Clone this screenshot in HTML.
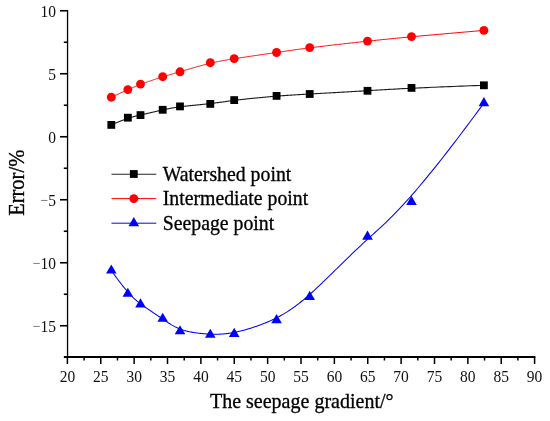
<!DOCTYPE html>
<html><head><meta charset="utf-8"><style>
html,body{margin:0;padding:0;background:#fff;}
svg{display:block;}
text{font-family:'Liberation Serif', 'Times New Roman', serif;fill:#000;}
.tl{font-size:15.5px;fill:#111;}
.mn{font-size:13.8px;fill:#555;}
.lg{font-size:20px;stroke:#000;stroke-width:0.3px;}
.at{font-size:20.5px;stroke:#000;stroke-width:0.3px;}
</style></head><body>
<svg width="550" height="421" viewBox="0 0 550 421">
<rect width="550" height="421" fill="#fff"/>
<line x1="67.55" y1="10" x2="67.55" y2="357.0" stroke="#000" stroke-width="1.3"/>
<line x1="64" y1="357.0" x2="535.4" y2="357.0" stroke="#000" stroke-width="1.8"/>
<line x1="60" y1="325.75" x2="67.55" y2="325.75" stroke="#000" stroke-width="1.6"/>
<line x1="60" y1="262.75" x2="67.55" y2="262.75" stroke="#000" stroke-width="1.6"/>
<line x1="60" y1="199.75" x2="67.55" y2="199.75" stroke="#000" stroke-width="1.6"/>
<line x1="60" y1="136.75" x2="67.55" y2="136.75" stroke="#000" stroke-width="1.6"/>
<line x1="60" y1="73.75" x2="67.55" y2="73.75" stroke="#000" stroke-width="1.6"/>
<line x1="60" y1="10.75" x2="67.55" y2="10.75" stroke="#000" stroke-width="1.6"/>
<line x1="63.8" y1="357.25" x2="67.55" y2="357.25" stroke="#000" stroke-width="1.6"/>
<line x1="63.8" y1="294.25" x2="67.55" y2="294.25" stroke="#000" stroke-width="1.6"/>
<line x1="63.8" y1="231.25" x2="67.55" y2="231.25" stroke="#000" stroke-width="1.6"/>
<line x1="63.8" y1="168.25" x2="67.55" y2="168.25" stroke="#000" stroke-width="1.6"/>
<line x1="63.8" y1="105.25" x2="67.55" y2="105.25" stroke="#000" stroke-width="1.6"/>
<line x1="63.8" y1="42.25" x2="67.55" y2="42.25" stroke="#000" stroke-width="1.6"/>
<line x1="67.40" y1="357.0" x2="67.40" y2="364" stroke="#000" stroke-width="1.5"/>
<line x1="100.77" y1="357.0" x2="100.77" y2="364" stroke="#000" stroke-width="1.5"/>
<line x1="134.14" y1="357.0" x2="134.14" y2="364" stroke="#000" stroke-width="1.5"/>
<line x1="167.51" y1="357.0" x2="167.51" y2="364" stroke="#000" stroke-width="1.5"/>
<line x1="200.89" y1="357.0" x2="200.89" y2="364" stroke="#000" stroke-width="1.5"/>
<line x1="234.26" y1="357.0" x2="234.26" y2="364" stroke="#000" stroke-width="1.5"/>
<line x1="267.63" y1="357.0" x2="267.63" y2="364" stroke="#000" stroke-width="1.5"/>
<line x1="301.00" y1="357.0" x2="301.00" y2="364" stroke="#000" stroke-width="1.5"/>
<line x1="334.37" y1="357.0" x2="334.37" y2="364" stroke="#000" stroke-width="1.5"/>
<line x1="367.74" y1="357.0" x2="367.74" y2="364" stroke="#000" stroke-width="1.5"/>
<line x1="401.11" y1="357.0" x2="401.11" y2="364" stroke="#000" stroke-width="1.5"/>
<line x1="434.49" y1="357.0" x2="434.49" y2="364" stroke="#000" stroke-width="1.5"/>
<line x1="467.86" y1="357.0" x2="467.86" y2="364" stroke="#000" stroke-width="1.5"/>
<line x1="501.23" y1="357.0" x2="501.23" y2="364" stroke="#000" stroke-width="1.5"/>
<line x1="534.60" y1="357.0" x2="534.60" y2="364" stroke="#000" stroke-width="1.5"/>
<line x1="84.09" y1="357.0" x2="84.09" y2="360.5" stroke="#000" stroke-width="1.5"/>
<line x1="117.46" y1="357.0" x2="117.46" y2="360.5" stroke="#000" stroke-width="1.5"/>
<line x1="150.83" y1="357.0" x2="150.83" y2="360.5" stroke="#000" stroke-width="1.5"/>
<line x1="184.20" y1="357.0" x2="184.20" y2="360.5" stroke="#000" stroke-width="1.5"/>
<line x1="217.57" y1="357.0" x2="217.57" y2="360.5" stroke="#000" stroke-width="1.5"/>
<line x1="250.94" y1="357.0" x2="250.94" y2="360.5" stroke="#000" stroke-width="1.5"/>
<line x1="284.31" y1="357.0" x2="284.31" y2="360.5" stroke="#000" stroke-width="1.5"/>
<line x1="317.69" y1="357.0" x2="317.69" y2="360.5" stroke="#000" stroke-width="1.5"/>
<line x1="351.06" y1="357.0" x2="351.06" y2="360.5" stroke="#000" stroke-width="1.5"/>
<line x1="384.43" y1="357.0" x2="384.43" y2="360.5" stroke="#000" stroke-width="1.5"/>
<line x1="417.80" y1="357.0" x2="417.80" y2="360.5" stroke="#000" stroke-width="1.5"/>
<line x1="451.17" y1="357.0" x2="451.17" y2="360.5" stroke="#000" stroke-width="1.5"/>
<line x1="484.54" y1="357.0" x2="484.54" y2="360.5" stroke="#000" stroke-width="1.5"/>
<line x1="517.91" y1="357.0" x2="517.91" y2="360.5" stroke="#000" stroke-width="1.5"/>
<text transform="translate(67.40,382.2) scale(1,1.07)" text-anchor="middle" class="tl">20</text>
<text transform="translate(100.77,382.2) scale(1,1.07)" text-anchor="middle" class="tl">25</text>
<text transform="translate(134.14,382.2) scale(1,1.07)" text-anchor="middle" class="tl">30</text>
<text transform="translate(167.51,382.2) scale(1,1.07)" text-anchor="middle" class="tl">35</text>
<text transform="translate(200.89,382.2) scale(1,1.07)" text-anchor="middle" class="tl">40</text>
<text transform="translate(234.26,382.2) scale(1,1.07)" text-anchor="middle" class="tl">45</text>
<text transform="translate(267.63,382.2) scale(1,1.07)" text-anchor="middle" class="tl">50</text>
<text transform="translate(301.00,382.2) scale(1,1.07)" text-anchor="middle" class="tl">55</text>
<text transform="translate(334.37,382.2) scale(1,1.07)" text-anchor="middle" class="tl">60</text>
<text transform="translate(367.74,382.2) scale(1,1.07)" text-anchor="middle" class="tl">65</text>
<text transform="translate(401.11,382.2) scale(1,1.07)" text-anchor="middle" class="tl">70</text>
<text transform="translate(434.49,382.2) scale(1,1.07)" text-anchor="middle" class="tl">75</text>
<text transform="translate(467.86,382.2) scale(1,1.07)" text-anchor="middle" class="tl">80</text>
<text transform="translate(501.23,382.2) scale(1,1.07)" text-anchor="middle" class="tl">85</text>
<text transform="translate(534.60,382.2) scale(1,1.07)" text-anchor="middle" class="tl">90</text>
<text transform="translate(55.9,331.65) scale(1,1.07)" text-anchor="end" class="tl"><tspan class="mn" dy="-0.7">−</tspan><tspan dy="0.7">15</tspan></text>
<text transform="translate(55.9,268.65) scale(1,1.07)" text-anchor="end" class="tl"><tspan class="mn" dy="-0.7">−</tspan><tspan dy="0.7">10</tspan></text>
<text transform="translate(55.9,205.65) scale(1,1.07)" text-anchor="end" class="tl"><tspan class="mn" dy="-0.7">−</tspan><tspan dy="0.7">5</tspan></text>
<text transform="translate(55.9,142.65) scale(1,1.07)" text-anchor="end" class="tl">0</text>
<text transform="translate(55.9,79.65) scale(1,1.07)" text-anchor="end" class="tl">5</text>
<text transform="translate(55.9,16.65) scale(1,1.07)" text-anchor="end" class="tl">10</text>
<path d="M111.30,124.90 L112.40,124.42 L113.48,123.96 L114.52,123.52 L115.54,123.09 L116.52,122.68 L117.48,122.29 L118.42,121.91 L119.32,121.54 L120.21,121.19 L121.06,120.86 L121.90,120.54 L122.71,120.23 L123.49,119.93 L124.26,119.65 L125.00,119.38 L125.73,119.12 L126.44,118.87 L127.12,118.64 L127.79,118.41 L128.44,118.19 L129.08,117.99 L129.70,117.79 L130.30,117.60 L130.90,117.42 L131.47,117.25 L132.04,117.08 L132.59,116.92 L133.13,116.77 L133.66,116.63 L134.19,116.49 L134.70,116.35 L135.20,116.22 L135.70,116.10 L136.19,115.98 L136.67,115.86 L137.15,115.75 L137.63,115.64 L138.10,115.53 L138.57,115.42 L139.03,115.32 L139.49,115.21 L139.96,115.11 L140.42,115.00 L140.88,114.90 L141.35,114.80 L141.81,114.69 L142.28,114.59 L142.75,114.48 L143.22,114.38 L143.69,114.27 L144.17,114.16 L144.64,114.05 L145.11,113.94 L145.59,113.84 L146.07,113.73 L146.54,113.62 L147.02,113.51 L147.50,113.40 L147.98,113.29 L148.45,113.18 L148.93,113.07 L149.41,112.96 L149.89,112.85 L150.37,112.74 L150.85,112.63 L151.33,112.52 L151.80,112.41 L152.28,112.30 L152.76,112.19 L153.23,112.08 L153.71,111.97 L154.18,111.86 L154.66,111.75 L155.13,111.64 L155.60,111.53 L156.07,111.42 L156.54,111.32 L157.01,111.21 L157.47,111.10 L157.94,111.00 L158.40,110.89 L158.86,110.79 L159.32,110.69 L159.78,110.58 L160.23,110.48 L160.69,110.38 L161.14,110.28 L161.59,110.18 L162.03,110.08 L162.48,109.99 L162.92,109.89 L163.36,109.79 L163.79,109.70 L164.23,109.61 L164.66,109.51 L165.10,109.42 L165.53,109.33 L165.96,109.24 L166.39,109.15 L166.82,109.06 L167.25,108.98 L167.68,108.89 L168.11,108.80 L168.54,108.72 L168.98,108.63 L169.41,108.55 L169.84,108.47 L170.28,108.39 L170.71,108.31 L171.15,108.22 L171.59,108.15 L172.03,108.07 L172.48,107.99 L172.93,107.91 L173.38,107.83 L173.83,107.76 L174.28,107.68 L174.74,107.61 L175.21,107.53 L175.67,107.46 L176.14,107.38 L176.62,107.31 L177.09,107.24 L177.58,107.17 L178.07,107.10 L178.56,107.03 L179.06,106.96 L179.56,106.89 L180.07,106.82 L180.58,106.75 L181.11,106.68 L181.63,106.62 L182.17,106.55 L182.71,106.48 L183.25,106.42 L183.81,106.35 L184.36,106.29 L184.93,106.22 L185.50,106.16 L186.07,106.09 L186.65,106.03 L187.24,105.97 L187.83,105.90 L188.42,105.84 L189.02,105.78 L189.62,105.71 L190.23,105.65 L190.84,105.59 L191.45,105.53 L192.07,105.46 L192.68,105.40 L193.31,105.34 L193.93,105.28 L194.56,105.21 L195.18,105.15 L195.81,105.09 L196.44,105.03 L197.07,104.96 L197.71,104.90 L198.34,104.84 L198.98,104.77 L199.61,104.71 L200.25,104.65 L200.88,104.58 L201.52,104.52 L202.15,104.45 L202.78,104.39 L203.42,104.32 L204.05,104.25 L204.68,104.19 L205.31,104.12 L205.93,104.05 L206.56,103.99 L207.18,103.92 L207.80,103.85 L208.42,103.78 L209.03,103.71 L209.64,103.64 L210.25,103.56 L210.85,103.49 L211.46,103.42 L212.06,103.34 L212.65,103.27 L213.25,103.20 L213.85,103.12 L214.44,103.04 L215.03,102.97 L215.63,102.89 L216.22,102.81 L216.81,102.73 L217.40,102.65 L218.00,102.58 L218.59,102.50 L219.19,102.42 L219.79,102.33 L220.39,102.25 L220.99,102.17 L221.59,102.09 L222.20,102.01 L222.81,101.92 L223.42,101.84 L224.03,101.76 L224.65,101.67 L225.28,101.59 L225.91,101.50 L226.54,101.42 L227.18,101.33 L227.82,101.24 L228.47,101.16 L229.12,101.07 L229.78,100.98 L230.45,100.89 L231.12,100.81 L231.80,100.72 L232.49,100.63 L233.18,100.54 L233.89,100.45 L234.60,100.36 L235.31,100.27 L236.04,100.18 L236.78,100.09 L237.52,100.00 L238.28,99.91 L239.04,99.82 L239.82,99.73 L240.60,99.64 L241.39,99.55 L242.18,99.46 L242.99,99.37 L243.80,99.28 L244.61,99.19 L245.44,99.10 L246.27,99.01 L247.10,98.91 L247.95,98.82 L248.79,98.73 L249.64,98.64 L250.50,98.56 L251.36,98.47 L252.22,98.38 L253.09,98.29 L253.96,98.20 L254.84,98.11 L255.71,98.03 L256.59,97.94 L257.47,97.85 L258.36,97.77 L259.24,97.68 L260.12,97.60 L261.01,97.51 L261.90,97.43 L262.78,97.35 L263.67,97.27 L264.55,97.18 L265.44,97.10 L266.32,97.02 L267.20,96.95 L268.08,96.87 L268.96,96.79 L269.83,96.72 L270.71,96.64 L271.58,96.57 L272.44,96.49 L273.30,96.42 L274.16,96.35 L275.02,96.28 L275.87,96.22 L276.71,96.15 L277.55,96.08 L278.39,96.02 L279.22,95.95 L280.06,95.89 L280.88,95.83 L281.71,95.77 L282.54,95.71 L283.36,95.65 L284.19,95.59 L285.01,95.53 L285.83,95.47 L286.66,95.42 L287.48,95.36 L288.31,95.30 L289.13,95.25 L289.96,95.19 L290.79,95.14 L291.63,95.09 L292.47,95.03 L293.31,94.98 L294.15,94.93 L295.00,94.87 L295.85,94.82 L296.71,94.77 L297.58,94.72 L298.45,94.66 L299.32,94.61 L300.20,94.56 L301.09,94.51 L301.99,94.46 L302.89,94.40 L303.81,94.35 L304.73,94.30 L305.66,94.24 L306.60,94.19 L307.55,94.14 L308.51,94.08 L309.48,94.03 L310.46,93.97 L311.45,93.92 L312.45,93.86 L313.47,93.80 L314.49,93.74 L315.54,93.69 L316.59,93.63 L317.65,93.57 L318.73,93.51 L319.82,93.45 L320.92,93.39 L322.03,93.32 L323.15,93.26 L324.28,93.20 L325.42,93.13 L326.58,93.07 L327.74,93.00 L328.92,92.94 L330.10,92.87 L331.30,92.80 L332.50,92.73 L333.71,92.67 L334.94,92.60 L336.17,92.53 L337.41,92.46 L338.66,92.38 L339.91,92.31 L341.18,92.24 L342.45,92.17 L343.74,92.09 L345.02,92.02 L346.32,91.94 L347.63,91.87 L348.94,91.79 L350.25,91.72 L351.58,91.64 L352.91,91.56 L354.25,91.48 L355.59,91.40 L356.94,91.32 L358.30,91.24 L359.66,91.16 L361.03,91.08 L362.40,91.00 L363.78,90.92 L365.16,90.83 L366.55,90.75 L367.94,90.66 L369.33,90.58 L370.73,90.49 L372.14,90.41 L373.56,90.32 L375.00,90.23 L376.46,90.14 L377.94,90.05 L379.44,89.96 L380.97,89.87 L382.54,89.78 L384.14,89.69 L385.78,89.59 L387.46,89.49 L389.19,89.39 L390.97,89.30 L392.79,89.19 L394.68,89.09 L396.63,88.99 L398.63,88.88 L400.71,88.77 L402.85,88.66 L405.07,88.55 L407.36,88.44 L409.73,88.32 L412.18,88.20 L414.73,88.08 L417.36,87.96 L420.08,87.84 L422.90,87.71 L425.82,87.58 L428.84,87.45 L431.97,87.31 L435.21,87.18 L438.57,87.04 L442.04,86.89 L445.63,86.75 L449.34,86.60 L453.18,86.45 L457.15,86.29 L461.26,86.14 L465.50,85.98 L469.88,85.81 L474.40,85.64 L479.08,85.47 L483.90,85.30" fill="none" stroke="#1a1a1a" stroke-width="1.1"/>
<path d="M111.30,97.20 L112.40,96.69 L113.48,96.20 L114.52,95.72 L115.54,95.26 L116.52,94.81 L117.48,94.37 L118.42,93.94 L119.32,93.53 L120.21,93.13 L121.06,92.74 L121.90,92.37 L122.71,92.00 L123.49,91.65 L124.26,91.30 L125.00,90.97 L125.73,90.65 L126.44,90.33 L127.12,90.03 L127.79,89.73 L128.44,89.44 L129.08,89.16 L129.70,88.89 L130.30,88.63 L130.90,88.37 L131.47,88.13 L132.04,87.88 L132.59,87.65 L133.13,87.42 L133.66,87.19 L134.19,86.98 L134.70,86.76 L135.20,86.55 L135.70,86.35 L136.19,86.15 L136.67,85.95 L137.15,85.76 L137.63,85.57 L138.10,85.38 L138.57,85.20 L139.03,85.01 L139.49,84.83 L139.96,84.66 L140.42,84.48 L140.88,84.30 L141.35,84.12 L141.81,83.95 L142.28,83.77 L142.75,83.60 L143.22,83.42 L143.69,83.25 L144.17,83.08 L144.64,82.90 L145.11,82.73 L145.59,82.56 L146.07,82.39 L146.54,82.22 L147.02,82.05 L147.50,81.88 L147.98,81.71 L148.45,81.54 L148.93,81.37 L149.41,81.21 L149.89,81.04 L150.37,80.88 L150.85,80.71 L151.33,80.55 L151.80,80.39 L152.28,80.23 L152.76,80.07 L153.23,79.91 L153.71,79.75 L154.18,79.59 L154.66,79.43 L155.13,79.28 L155.60,79.12 L156.07,78.97 L156.54,78.82 L157.01,78.66 L157.47,78.51 L157.94,78.36 L158.40,78.22 L158.86,78.07 L159.32,77.92 L159.78,77.78 L160.23,77.63 L160.69,77.49 L161.14,77.35 L161.59,77.21 L162.03,77.07 L162.48,76.93 L162.92,76.80 L163.36,76.66 L163.79,76.53 L164.23,76.39 L164.66,76.26 L165.10,76.13 L165.53,76.00 L165.96,75.87 L166.39,75.74 L166.82,75.61 L167.25,75.48 L167.68,75.35 L168.11,75.22 L168.54,75.09 L168.98,74.96 L169.41,74.84 L169.84,74.71 L170.28,74.58 L170.71,74.45 L171.15,74.32 L171.59,74.19 L172.03,74.06 L172.48,73.93 L172.93,73.80 L173.38,73.67 L173.83,73.54 L174.28,73.41 L174.74,73.27 L175.21,73.14 L175.67,73.00 L176.14,72.86 L176.62,72.72 L177.09,72.58 L177.58,72.44 L178.07,72.30 L178.56,72.16 L179.06,72.01 L179.56,71.86 L180.07,71.72 L180.58,71.56 L181.11,71.41 L181.63,71.26 L182.17,71.10 L182.71,70.94 L183.25,70.78 L183.81,70.62 L184.36,70.45 L184.93,70.29 L185.50,70.12 L186.07,69.95 L186.65,69.78 L187.24,69.61 L187.83,69.43 L188.42,69.26 L189.02,69.08 L189.62,68.91 L190.23,68.73 L190.84,68.55 L191.45,68.37 L192.07,68.19 L192.68,68.01 L193.31,67.83 L193.93,67.66 L194.56,67.48 L195.18,67.30 L195.81,67.12 L196.44,66.94 L197.07,66.76 L197.71,66.58 L198.34,66.40 L198.98,66.23 L199.61,66.05 L200.25,65.88 L200.88,65.70 L201.52,65.53 L202.15,65.36 L202.78,65.19 L203.42,65.02 L204.05,64.85 L204.68,64.69 L205.31,64.52 L205.93,64.36 L206.56,64.20 L207.18,64.04 L207.80,63.89 L208.42,63.73 L209.03,63.58 L209.64,63.43 L210.25,63.29 L210.85,63.15 L211.46,63.00 L212.06,62.86 L212.65,62.73 L213.25,62.59 L213.85,62.46 L214.44,62.33 L215.03,62.20 L215.63,62.07 L216.22,61.95 L216.81,61.82 L217.40,61.70 L218.00,61.58 L218.59,61.46 L219.19,61.34 L219.79,61.23 L220.39,61.11 L220.99,61.00 L221.59,60.88 L222.20,60.77 L222.81,60.66 L223.42,60.54 L224.03,60.43 L224.65,60.32 L225.28,60.21 L225.91,60.10 L226.54,60.00 L227.18,59.89 L227.82,59.78 L228.47,59.67 L229.12,59.56 L229.78,59.45 L230.45,59.34 L231.12,59.23 L231.80,59.12 L232.49,59.01 L233.18,58.90 L233.89,58.79 L234.60,58.68 L235.31,58.57 L236.04,58.46 L236.78,58.34 L237.52,58.23 L238.28,58.11 L239.04,58.00 L239.82,57.88 L240.60,57.76 L241.39,57.64 L242.18,57.52 L242.99,57.40 L243.80,57.28 L244.61,57.15 L245.44,57.03 L246.27,56.91 L247.10,56.78 L247.95,56.66 L248.79,56.53 L249.64,56.41 L250.50,56.28 L251.36,56.15 L252.22,56.02 L253.09,55.90 L253.96,55.77 L254.84,55.64 L255.71,55.51 L256.59,55.38 L257.47,55.25 L258.36,55.13 L259.24,55.00 L260.12,54.87 L261.01,54.74 L261.90,54.61 L262.78,54.48 L263.67,54.35 L264.55,54.22 L265.44,54.09 L266.32,53.97 L267.20,53.84 L268.08,53.71 L268.96,53.58 L269.83,53.45 L270.71,53.33 L271.58,53.20 L272.44,53.07 L273.30,52.95 L274.16,52.82 L275.02,52.70 L275.87,52.58 L276.71,52.45 L277.55,52.33 L278.39,52.21 L279.22,52.09 L280.06,51.97 L280.88,51.84 L281.71,51.72 L282.54,51.60 L283.36,51.48 L284.19,51.37 L285.01,51.25 L285.83,51.13 L286.66,51.01 L287.48,50.89 L288.31,50.77 L289.13,50.65 L289.96,50.53 L290.79,50.42 L291.63,50.30 L292.47,50.18 L293.31,50.06 L294.15,49.94 L295.00,49.82 L295.85,49.71 L296.71,49.59 L297.58,49.47 L298.45,49.35 L299.32,49.23 L300.20,49.11 L301.09,48.99 L301.99,48.87 L302.89,48.75 L303.81,48.62 L304.73,48.50 L305.66,48.38 L306.60,48.26 L307.55,48.13 L308.51,48.01 L309.48,47.88 L310.46,47.76 L311.45,47.63 L312.45,47.50 L313.47,47.38 L314.49,47.25 L315.54,47.12 L316.59,46.99 L317.65,46.86 L318.73,46.72 L319.82,46.59 L320.92,46.46 L322.03,46.32 L323.15,46.19 L324.28,46.05 L325.42,45.92 L326.58,45.78 L327.74,45.64 L328.92,45.51 L330.10,45.37 L331.30,45.23 L332.50,45.09 L333.71,44.95 L334.94,44.81 L336.17,44.67 L337.41,44.53 L338.66,44.38 L339.91,44.24 L341.18,44.10 L342.45,43.95 L343.74,43.81 L345.02,43.66 L346.32,43.52 L347.63,43.37 L348.94,43.23 L350.25,43.08 L351.58,42.94 L352.91,42.79 L354.25,42.64 L355.59,42.49 L356.94,42.35 L358.30,42.20 L359.66,42.05 L361.03,41.90 L362.40,41.75 L363.78,41.61 L365.16,41.46 L366.55,41.31 L367.94,41.16 L369.33,41.01 L370.73,40.86 L372.14,40.71 L373.56,40.56 L375.00,40.41 L376.46,40.25 L377.94,40.10 L379.44,39.94 L380.97,39.78 L382.54,39.62 L384.14,39.46 L385.78,39.29 L387.46,39.12 L389.19,38.95 L390.97,38.77 L392.79,38.59 L394.68,38.41 L396.63,38.22 L398.63,38.02 L400.71,37.82 L402.85,37.62 L405.07,37.41 L407.36,37.19 L409.73,36.97 L412.18,36.74 L414.73,36.50 L417.36,36.26 L420.08,36.01 L422.90,35.75 L425.82,35.49 L428.84,35.22 L431.97,34.93 L435.21,34.64 L438.57,34.35 L442.04,34.04 L445.63,33.72 L449.34,33.39 L453.18,33.06 L457.15,32.71 L461.26,32.35 L465.50,31.98 L469.88,31.61 L474.40,31.22 L479.08,30.81 L483.90,30.40" fill="none" stroke="#ff0000" stroke-width="1.0"/>
<path d="M111.30,270.50 L112.40,272.05 L113.48,273.55 L114.52,274.99 L115.54,276.38 L116.52,277.72 L117.48,279.02 L118.42,280.26 L119.32,281.46 L120.21,282.61 L121.06,283.72 L121.90,284.79 L122.71,285.82 L123.49,286.80 L124.26,287.75 L125.00,288.66 L125.73,289.53 L126.44,290.36 L127.12,291.17 L127.79,291.94 L128.44,292.67 L129.08,293.38 L129.70,294.06 L130.30,294.71 L130.90,295.33 L131.47,295.93 L132.04,296.50 L132.59,297.05 L133.13,297.58 L133.66,298.09 L134.19,298.57 L134.70,299.04 L135.20,299.50 L135.70,299.93 L136.19,300.35 L136.67,300.76 L137.15,301.16 L137.63,301.54 L138.10,301.92 L138.57,302.29 L139.03,302.65 L139.49,303.00 L139.96,303.35 L140.42,303.69 L140.88,304.04 L141.35,304.38 L141.81,304.72 L142.28,305.06 L142.75,305.40 L143.22,305.74 L143.69,306.07 L144.17,306.41 L144.64,306.75 L145.11,307.08 L145.59,307.42 L146.07,307.75 L146.54,308.08 L147.02,308.42 L147.50,308.75 L147.98,309.08 L148.45,309.41 L148.93,309.74 L149.41,310.06 L149.89,310.39 L150.37,310.72 L150.85,311.04 L151.33,311.37 L151.80,311.69 L152.28,312.01 L152.76,312.34 L153.23,312.66 L153.71,312.98 L154.18,313.30 L154.66,313.61 L155.13,313.93 L155.60,314.25 L156.07,314.56 L156.54,314.88 L157.01,315.19 L157.47,315.51 L157.94,315.82 L158.40,316.13 L158.86,316.44 L159.32,316.75 L159.78,317.06 L160.23,317.36 L160.69,317.67 L161.14,317.98 L161.59,318.28 L162.03,318.58 L162.48,318.89 L162.92,319.19 L163.36,319.49 L163.79,319.79 L164.23,320.09 L164.66,320.38 L165.10,320.68 L165.53,320.97 L165.96,321.26 L166.39,321.55 L166.82,321.84 L167.25,322.13 L167.68,322.41 L168.11,322.69 L168.54,322.97 L168.98,323.25 L169.41,323.53 L169.84,323.80 L170.28,324.07 L170.71,324.34 L171.15,324.60 L171.59,324.87 L172.03,325.13 L172.48,325.38 L172.93,325.64 L173.38,325.89 L173.83,326.14 L174.28,326.38 L174.74,326.62 L175.21,326.86 L175.67,327.10 L176.14,327.33 L176.62,327.56 L177.09,327.78 L177.58,328.00 L178.07,328.22 L178.56,328.43 L179.06,328.64 L179.56,328.84 L180.07,329.04 L180.58,329.24 L181.11,329.43 L181.63,329.62 L182.17,329.80 L182.71,329.98 L183.25,330.15 L183.81,330.32 L184.36,330.49 L184.93,330.65 L185.50,330.80 L186.07,330.95 L186.65,331.10 L187.24,331.25 L187.83,331.38 L188.42,331.52 L189.02,331.65 L189.62,331.78 L190.23,331.90 L190.84,332.02 L191.45,332.14 L192.07,332.25 L192.68,332.36 L193.31,332.46 L193.93,332.56 L194.56,332.66 L195.18,332.76 L195.81,332.85 L196.44,332.93 L197.07,333.02 L197.71,333.10 L198.34,333.18 L198.98,333.25 L199.61,333.32 L200.25,333.39 L200.88,333.46 L201.52,333.52 L202.15,333.58 L202.78,333.63 L203.42,333.69 L204.05,333.74 L204.68,333.79 L205.31,333.83 L205.93,333.88 L206.56,333.92 L207.18,333.96 L207.80,333.99 L208.42,334.03 L209.03,334.06 L209.64,334.09 L210.25,334.11 L210.85,334.14 L211.46,334.16 L212.06,334.18 L212.65,334.19 L213.25,334.21 L213.85,334.22 L214.44,334.23 L215.03,334.23 L215.63,334.23 L216.22,334.23 L216.81,334.23 L217.40,334.22 L218.00,334.21 L218.59,334.19 L219.19,334.17 L219.79,334.15 L220.39,334.12 L220.99,334.09 L221.59,334.05 L222.20,334.01 L222.81,333.97 L223.42,333.92 L224.03,333.87 L224.65,333.81 L225.28,333.75 L225.91,333.68 L226.54,333.61 L227.18,333.53 L227.82,333.45 L228.47,333.36 L229.12,333.27 L229.78,333.17 L230.45,333.07 L231.12,332.96 L231.80,332.84 L232.49,332.72 L233.18,332.60 L233.89,332.47 L234.60,332.33 L235.31,332.18 L236.04,332.03 L236.78,331.87 L237.52,331.71 L238.28,331.54 L239.04,331.36 L239.82,331.18 L240.60,330.99 L241.39,330.80 L242.18,330.59 L242.99,330.39 L243.80,330.17 L244.61,329.95 L245.44,329.72 L246.27,329.49 L247.10,329.25 L247.95,329.01 L248.79,328.76 L249.64,328.50 L250.50,328.24 L251.36,327.97 L252.22,327.69 L253.09,327.41 L253.96,327.12 L254.84,326.83 L255.71,326.53 L256.59,326.23 L257.47,325.92 L258.36,325.60 L259.24,325.28 L260.12,324.96 L261.01,324.63 L261.90,324.29 L262.78,323.95 L263.67,323.60 L264.55,323.25 L265.44,322.89 L266.32,322.52 L267.20,322.15 L268.08,321.78 L268.96,321.40 L269.83,321.01 L270.71,320.62 L271.58,320.23 L272.44,319.83 L273.30,319.42 L274.16,319.01 L275.02,318.60 L275.87,318.18 L276.71,317.76 L277.55,317.32 L278.39,316.89 L279.22,316.45 L280.06,316.00 L280.88,315.54 L281.71,315.08 L282.54,314.61 L283.36,314.13 L284.19,313.64 L285.01,313.15 L285.83,312.65 L286.66,312.14 L287.48,311.61 L288.31,311.08 L289.13,310.54 L289.96,309.99 L290.79,309.43 L291.63,308.86 L292.47,308.28 L293.31,307.68 L294.15,307.07 L295.00,306.46 L295.85,305.83 L296.71,305.18 L297.58,304.52 L298.45,303.85 L299.32,303.17 L300.20,302.47 L301.09,301.76 L301.99,301.03 L302.89,300.29 L303.81,299.54 L304.73,298.76 L305.66,297.98 L306.60,297.17 L307.55,296.35 L308.51,295.51 L309.48,294.66 L310.46,293.79 L311.45,292.90 L312.45,291.99 L313.47,291.06 L314.49,290.12 L315.54,289.15 L316.59,288.17 L317.65,287.18 L318.73,286.16 L319.82,285.13 L320.92,284.08 L322.03,283.02 L323.15,281.94 L324.28,280.85 L325.42,279.74 L326.58,278.62 L327.74,277.49 L328.92,276.35 L330.10,275.19 L331.30,274.02 L332.50,272.84 L333.71,271.66 L334.94,270.46 L336.17,269.25 L337.41,268.04 L338.66,266.81 L339.91,265.58 L341.18,264.34 L342.45,263.10 L343.74,261.85 L345.02,260.59 L346.32,259.33 L347.63,258.06 L348.94,256.79 L350.25,255.52 L351.58,254.24 L352.91,252.96 L354.25,251.68 L355.59,250.40 L356.94,249.12 L358.30,247.83 L359.66,246.55 L361.03,245.27 L362.40,243.98 L363.78,242.70 L365.16,241.43 L366.55,240.15 L367.94,238.88 L369.33,237.61 L370.73,236.34 L372.14,235.07 L373.56,233.80 L375.00,232.50 L376.46,231.19 L377.94,229.85 L379.44,228.47 L380.97,227.06 L382.54,225.61 L384.14,224.10 L385.78,222.55 L387.46,220.93 L389.19,219.24 L390.97,217.49 L392.79,215.65 L394.68,213.73 L396.63,211.73 L398.63,209.63 L400.71,207.42 L402.85,205.12 L405.07,202.70 L407.36,200.16 L409.73,197.50 L412.18,194.71 L414.73,191.79 L417.36,188.72 L420.08,185.51 L422.90,182.15 L425.82,178.63 L428.84,174.95 L431.97,171.10 L435.21,167.08 L438.57,162.87 L442.04,158.48 L445.63,153.90 L449.34,149.12 L453.18,144.14 L457.15,138.95 L461.26,133.54 L465.50,127.92 L469.88,122.06 L474.40,115.98 L479.08,109.66 L483.90,103.10" fill="none" stroke="#0000ff" stroke-width="1.05"/>
<rect x="107.40" y="121.00" width="7.8" height="7.8" fill="#000"/>
<rect x="123.95" y="113.80" width="7.8" height="7.8" fill="#000"/>
<rect x="136.60" y="111.20" width="7.8" height="7.8" fill="#000"/>
<rect x="158.80" y="105.90" width="7.8" height="7.8" fill="#000"/>
<rect x="176.10" y="102.50" width="7.8" height="7.8" fill="#000"/>
<rect x="206.40" y="100.00" width="7.8" height="7.8" fill="#000"/>
<rect x="230.30" y="96.20" width="7.8" height="7.8" fill="#000"/>
<rect x="272.65" y="92.00" width="7.8" height="7.8" fill="#000"/>
<rect x="305.80" y="90.10" width="7.8" height="7.8" fill="#000"/>
<rect x="363.60" y="86.90" width="7.8" height="7.8" fill="#000"/>
<rect x="407.60" y="84.00" width="7.8" height="7.8" fill="#000"/>
<rect x="480.00" y="81.40" width="7.8" height="7.8" fill="#000"/>
<circle cx="111.30" cy="97.20" r="4.45" fill="#ff0000"/>
<circle cx="127.85" cy="89.60" r="4.45" fill="#ff0000"/>
<circle cx="140.50" cy="84.10" r="4.45" fill="#ff0000"/>
<circle cx="162.70" cy="76.70" r="4.45" fill="#ff0000"/>
<circle cx="180.00" cy="71.80" r="4.45" fill="#ff0000"/>
<circle cx="210.30" cy="62.70" r="4.45" fill="#ff0000"/>
<circle cx="234.20" cy="58.60" r="4.45" fill="#ff0000"/>
<circle cx="276.55" cy="52.50" r="4.45" fill="#ff0000"/>
<circle cx="309.70" cy="47.60" r="4.45" fill="#ff0000"/>
<circle cx="367.50" cy="41.10" r="4.45" fill="#ff0000"/>
<circle cx="411.50" cy="36.60" r="4.45" fill="#ff0000"/>
<circle cx="483.90" cy="30.40" r="4.45" fill="#ff0000"/>
<polygon points="111.30,264.38 106.00,273.56 116.60,273.56" fill="#0000ff"/>
<polygon points="127.85,287.68 122.55,296.86 133.15,296.86" fill="#0000ff"/>
<polygon points="140.50,298.28 135.20,307.46 145.80,307.46" fill="#0000ff"/>
<polygon points="162.70,312.68 157.40,321.86 168.00,321.86" fill="#0000ff"/>
<polygon points="180.00,325.18 174.70,334.36 185.30,334.36" fill="#0000ff"/>
<polygon points="210.30,328.68 205.00,337.86 215.60,337.86" fill="#0000ff"/>
<polygon points="234.20,327.78 228.90,336.96 239.50,336.96" fill="#0000ff"/>
<polygon points="276.55,314.08 271.25,323.26 281.85,323.26" fill="#0000ff"/>
<polygon points="309.70,290.78 304.40,299.96 315.00,299.96" fill="#0000ff"/>
<polygon points="367.50,230.58 362.20,239.76 372.80,239.76" fill="#0000ff"/>
<polygon points="411.50,195.78 406.20,204.96 416.80,204.96" fill="#0000ff"/>
<polygon points="483.90,96.98 478.60,106.16 489.20,106.16" fill="#0000ff"/>
<line x1="111.5" y1="174.2" x2="156.3" y2="174.2" stroke="#262626" stroke-width="1.05"/>
<line x1="111.5" y1="198.6" x2="156.3" y2="198.6" stroke="#ff0000" stroke-width="1.0"/>
<line x1="111.5" y1="223.2" x2="156.3" y2="223.2" stroke="#0000ff" stroke-width="1.0"/>
<rect x="129.90" y="170.10" width="7.8" height="7.8" fill="#000"/>
<circle cx="133.8" cy="198.6" r="4.45" fill="#ff0000"/>
<polygon points="133.80,217.08 128.50,226.26 139.10,226.26" fill="#0000ff"/>
<text transform="translate(162.7,181.2) scale(0.99,1.1)" class="lg">Watershed point</text>
<text transform="translate(162.7,205.4) scale(0.99,1.1)" class="lg">Intermediate point</text>
<text transform="translate(162.7,230.3) scale(0.99,1.1)" class="lg">Seepage point</text>
<text transform="translate(301.74,407.9) scale(0.977,1.065)" text-anchor="middle" class="at">The seepage gradient/°</text>
<text transform="translate(24.45,182.8) rotate(-90) scale(1,1.08)" text-anchor="middle" class="at">Error/%</text>
</svg>
</body></html>
